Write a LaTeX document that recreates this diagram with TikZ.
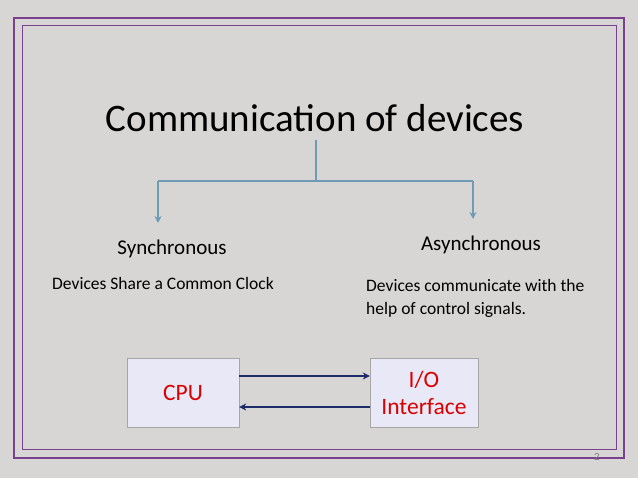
\documentclass[tikz,border=0pt]{standalone}
\usepackage{fontspec}
\setmainfont{Carlito}
\usetikzlibrary{arrows.meta}
\definecolor{bg}{HTML}{D8D6D4}
\definecolor{frame}{HTML}{7B3F8F}
\definecolor{tree}{HTML}{6F9CB4}
\definecolor{navy}{HTML}{1F2A6B}
\definecolor{boxfill}{HTML}{E8E8F6}
\tikzset{
 tline/.style={draw=tree,line width=1.5pt},
 tarrow/.style={tline,-{Stealth[length=7pt,width=7pt]}},
 dev/.style={draw=gray!70,fill=boxfill,minimum width=112pt,minimum height=69pt,text=red!85!black,font=\fontsize{23.5}{27}\selectfont,align=center,inner sep=0pt},
 link/.style={draw=navy,line width=1.5pt,-{Stealth[length=7pt,width=7pt]}},
 lbl/.style={font=\fontsize{21}{24}\selectfont},
 sml/.style={font=\fontsize{17.5}{23}\selectfont},
}
\begin{document}
\begin{tikzpicture}[x=1pt,y=-1pt]
\useasboundingbox (0,0) rectangle (638,478);
\fill[bg] (0,0) rectangle (638,478);
\draw[frame,line width=2.5pt] (14,18) rectangle (624,458);
\draw[frame,line width=1pt] (22,26) rectangle (616,450);
\node[font=\fontsize{39}{44}\selectfont] (title) at (315,118) {Communication of devices};
\coordinate (top) at (316,140);
\coordinate (mid) at (316,181);
\coordinate (l) at (158,181);
\coordinate (r) at (473,181);
\coordinate (la) at (158,223);
\coordinate (ra) at (473,219);
\draw[tline] (top) -- (mid);
\draw[tline] (l) -- (r);
\draw[tarrow] (l) -- (la);
\draw[tarrow] (r) -- (ra);
\node[lbl] (sync) at (172,249) {Synchronous};
\node[lbl] (async) at (481,245) {Asynchronous};
\node[sml] (sd) at (163,283) {Devices Share a Common Clock};
\node[sml,align=left,anchor=north west,inner sep=0pt] (ad) at (366,279) {Devices communicate with the\\help of control signals.};
\node[dev] (cpu) at (183,393) {CPU};
\node[dev,minimum width=108pt] (io) at (424,393) {I/O\\Interface};
\draw[link] ([yshift=17pt]cpu.east) -- ([yshift=17pt]io.west);
\draw[link] ([yshift=-14pt]io.west) -- ([yshift=-14pt]cpu.east);
\node[font=\fontsize{11}{12}\selectfont,text=gray] (pg) at (597,457) {2};
\end{tikzpicture}
\end{document}
